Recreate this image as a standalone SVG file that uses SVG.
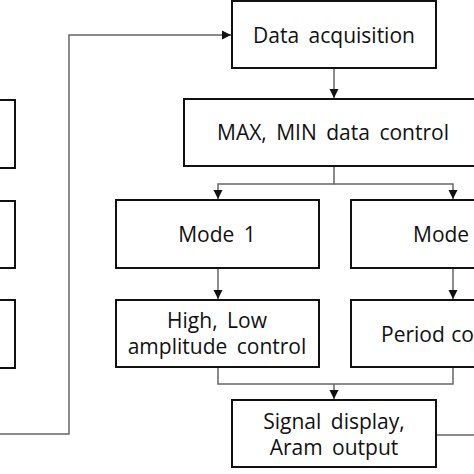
<svg xmlns="http://www.w3.org/2000/svg" width="474" height="474" viewBox="0 0 474 474">
<style>
.box{fill:#fff;stroke:#111;stroke-width:2}
.t{font-family:"Open Sans","Noto Sans",sans-serif;font-size:21px;word-spacing:4px;fill:#111;text-anchor:middle}
.c{fill:none;stroke:#666;stroke-width:1.5}
</style>
<defs>
<marker id="ah" markerUnits="userSpaceOnUse" markerWidth="10" markerHeight="10" refX="9" refY="5" orient="auto">
<path d="M0,0.5 L9,5 L0,9.5 Z" fill="#111"/>
</marker>
</defs>
<rect width="474" height="474" fill="#fff"/>
<g id="connectors">
<path class="c" d="M0,434 H69 V35 H231" marker-end="url(#ah)"/>
<path class="c" d="M334,68 V98" marker-end="url(#ah)"/>
<path class="c" d="M334,166 V184 H218 V199" marker-end="url(#ah)"/>
<path class="c" d="M334,184 H453 V199" marker-end="url(#ah)"/>
<path class="c" d="M218,268 V299" marker-end="url(#ah)"/>
<path class="c" d="M453,268 V299" marker-end="url(#ah)"/>
<path class="c" d="M218,367 V384 H453 V367"/>
<path class="c" d="M334,384 V399" marker-end="url(#ah)"/>
<path class="c" d="M436,435 H474"/>
</g>
<g id="left1"><rect class="box" x="-10" y="100" width="25" height="68"/></g>
<g id="left2"><rect class="box" x="-10" y="201" width="25" height="67"/></g>
<g id="left3"><rect class="box" x="-10" y="300" width="25" height="68"/></g>
<g id="data-acquisition"><rect class="box" x="232" y="1" width="204" height="67"/><text class="t" x="334" y="43">Data acquisition</text></g>
<g id="maxmin"><rect class="box" x="184" y="99" width="300" height="67"/><text class="t" x="333" y="140">MAX, MIN data control</text></g>
<g id="mode1"><rect class="box" x="116" y="200" width="203" height="68"/><text class="t" x="217" y="242">Mode 1</text></g>
<g id="mode2"><rect class="box" x="351" y="200" width="140" height="68"/><text class="t" x="413" y="242" style="text-anchor:start">Mode</text></g>
<g id="highlow"><rect class="box" x="116" y="300" width="203" height="67"/><text class="t" x="217" y="328">High, Low</text><text class="t" x="217" y="354">amplitude control</text></g>
<g id="period"><rect class="box" x="351" y="300" width="140" height="67"/><text class="t" x="381" y="342" style="text-anchor:start;word-spacing:1px">Period co</text></g>
<g id="signal"><rect class="box" x="232" y="400" width="204" height="67"/><text class="t" x="334" y="429">Signal display,</text><text class="t" x="334" y="455">Aram output</text></g>
</svg>
